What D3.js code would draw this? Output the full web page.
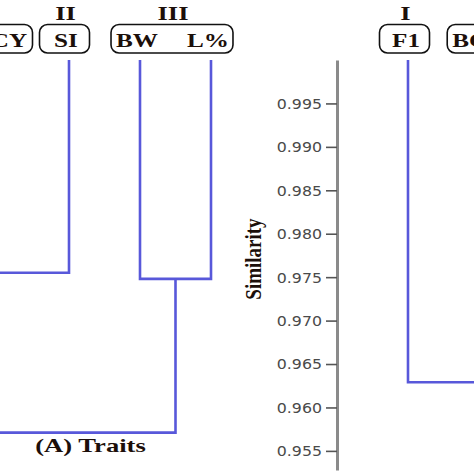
<!DOCTYPE html>
<html>
<head>
<meta charset="utf-8">
<script src="https://cdn.jsdelivr.net/npm/d3@7"></script>
<style>
  html, body { margin: 0; padding: 0; background: #fff; overflow: hidden; }
  svg { display: block; }
</style>
</head>
<body>
<svg id="chart" width="474" height="474"></svg>
<script>
// ---------------- data ----------------
// similarity axis
const simDomain = [0.9528, 1.0];
const simTicks = [0.955, 0.960, 0.965, 0.970, 0.975, 0.980, 0.985, 0.990, 0.995];

// panel A (traits) – visible leaves, left to right
const traitLeaves = ["CY", "SI", "BW", "L%"];
const traitGroup = ["I", "II", "III", "III"];
const traitNumeralShown = [false, true, true, true];   // numeral of group I lies outside the crop
// merges: a / b are leaf names, merge names, or numeric leaf-index positions of clusters outside the crop
const traitMerges = [
  { name: "m1", a: "BW", b: "L%", sim: 0.9748 },
  { name: "m2", a: -1.5, b: "SI", sim: 0.9755 },
  { name: "m3", a: -1.0, b: "CY", sim: 0.9800 },
  { name: "m4", a: -2.5, b: "m1", sim: 0.9571 }
];

// panel B (generations) – visible leaves
const genLeaves = ["F1", "BC1"];
const genGroup = ["I", "IV"];
const genNumeralShown = [true, false];
const genMerges = [
  { name: "g1", a: "F1", b: 2.5, sim: 0.9629 }
];

const captionA = "(A) Traits";
const axisTitle = "Similarity";

// ---------------- layout ----------------
const svg = d3.select("#chart");
const W = 474, H = 474;
const y = d3.scaleLinear().domain(simDomain).range([470, 60]);
const xA = d3.scaleLinear().domain([0, 3]).range([-2, 211]);
const xB = d3.scaleLinear().domain([0, 1]).range([408, 479]);
const axisX = 337;
const lineColor = "#5858da";
const inkColor = "#1c0f0a";
const serif = "'Liberation Serif', 'Times New Roman', serif";
const STRETCH = 1.4;

function drawDendro(leaves, merges, xs) {
  const nodes = {};
  leaves.forEach((n, i) => nodes[n] = { x: xs(i), y: y(1.0) });
  const g = svg.append("g");
  merges.forEach(m => {
    const yy = y(m.sim);
    const ca = typeof m.a === "number" ? { x: xs(m.a), y: yy } : nodes[m.a];
    const cb = typeof m.b === "number" ? { x: xs(m.b), y: yy } : nodes[m.b];
    const p = d3.path();
    p.moveTo(ca.x, ca.y); p.lineTo(ca.x, yy); p.lineTo(cb.x, yy); p.lineTo(cb.x, cb.y);
    g.append("path").attr("d", p.toString())
      .attr("fill", "none").attr("stroke", lineColor)
      .attr("stroke-width", 2.6).attr("stroke-linejoin", "miter");
    nodes[m.name] = { x: (ca.x + cb.x) / 2, y: yy };
  });
}

function stretchedText(parent, txt, cx, baseline, size, sx) {
  const t = parent.append("text")
    .attr("transform", `translate(${cx},${baseline}) scale(${sx},1)`)
    .attr("text-anchor", "middle")
    .attr("font-family", serif).attr("font-weight", "bold")
    .attr("font-size", size).attr("fill", inkColor)
    .text(txt);
  const w = t.node().getComputedTextLength() * sx;
  return { left: cx - w / 2, right: cx + w / 2 };
}

function drawLabels(leaves, groups, shown, xs, nudge) {
  const g = svg.append("g");
  const ext = {};
  leaves.forEach((n, i) => {
    const cx = xs(i) + (nudge[n] !== undefined ? nudge[n] : -3);
    const e = stretchedText(g, n, cx, 47, 18, STRETCH);
    const k = groups[i];
    if (!ext[k]) ext[k] = { left: e.left, right: e.right, shown: shown[i] };
    else { ext[k].left = Math.min(ext[k].left, e.left); ext[k].right = Math.max(ext[k].right, e.right); }
  });
  Object.entries(ext).forEach(([k, e]) => {
    let l = e.left - 5, r = e.right + 4;
    if (r - l < 50) { const c = (l + r) / 2 - 1; l = c - 25; r = c + 25; }
    g.insert("rect", ":first-child")
      .attr("x", l).attr("y", 24.5).attr("width", r - l).attr("height", 28.5)
      .attr("rx", 8).attr("ry", 8)
      .attr("fill", "#fff").attr("stroke", "#111").attr("stroke-width", 1.6);
    if (e.shown) stretchedText(g, k, (l + r) / 2 + 1, 20, 19, STRETCH);
  });
}

// dendrograms
drawDendro(traitLeaves, traitMerges, xA);
drawDendro(genLeaves, genMerges, xB);

// leaf labels with group boxes
drawLabels(traitLeaves, traitGroup, traitNumeralShown, xA, { CY: 11 });
drawLabels(genLeaves, genGroup, genNumeralShown, xB, { F1: -2 });

// caption of panel A
stretchedText(svg, captionA, 90.5, 452, 19, STRETCH);

// similarity axis
const ax = svg.append("g").attr("transform", `translate(${axisX},0)`)
  .call(d3.axisLeft(y).tickValues(simTicks).tickSize(11).tickSizeOuter(0)
    .tickPadding(4).tickFormat(d3.format(".3f")));
ax.select(".domain").attr("stroke", "#8a8a8a").attr("stroke-width", 3);
ax.selectAll(".tick line").attr("stroke", "#555").attr("stroke-width", 1.6);
ax.selectAll(".tick text")
  .attr("x", 0).attr("dy", "0.36em")
  .attr("transform", "translate(-15,0) scale(1.17,1)")
  .attr("font-family", "'DejaVu Sans', Verdana, sans-serif")
  .attr("font-size", 13.5).attr("fill", "#4a4a4a");

// axis title
svg.append("text")
  .attr("transform", `translate(261,259) scale(1.25,1) rotate(-90)`)
  .attr("text-anchor", "middle")
  .attr("font-family", serif).attr("font-weight", "bold")
  .attr("font-size", 19).attr("fill", inkColor)
  .text(axisTitle);
</script>
</body>
</html>
